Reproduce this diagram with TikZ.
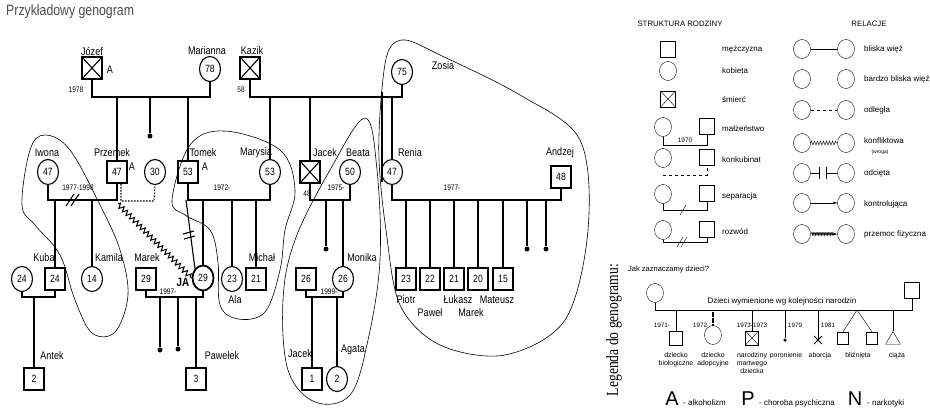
\documentclass[tikz,border=0pt]{standalone}
\usepackage{fontspec}
\setmainfont[FakeStretch=0.82]{Liberation Sans}
\newfontfamily\legf{Liberation Sans}
\newfontfamily\serifn[FakeStretch=0.8]{Liberation Serif}
\usetikzlibrary{shapes.geometric,decorations.pathmorphing,arrows.meta}
\begin{document}
\begin{tikzpicture}[x=1pt,y=-1pt,
  sq/.style={draw,line width=1.1pt,minimum width=20pt,minimum height=22pt,inner sep=0pt,font=\fontsize{10.5}{10}\selectfont},
  ci/.style={draw,ellipse,line width=1.1pt,minimum width=21pt,minimum height=25pt,inner sep=0pt,font=\fontsize{10.5}{10}\selectfont},
  xsq/.style={sq,path picture={\draw (path picture bounding box.north west)--(path picture bounding box.south east) (path picture bounding box.north east)--(path picture bounding box.south west);}},
  lb/.style={font=\fontsize{11}{11}\selectfont,inner sep=0pt},
  yr/.style={font=\fontsize{8}{8}\selectfont,inner sep=0pt},
  ln/.style={line width=1.1pt},
  dotc/.style={circle,fill,inner sep=0pt,minimum size=5pt},
  curve/.style={line width=0.6pt},
  lsq/.style={draw,minimum width=15pt,minimum height=16pt,inner sep=0pt},
  lci/.style={draw,ellipse,minimum width=17pt,minimum height=19pt,inner sep=0pt},
  lt/.style={font=\legf\fontsize{8}{9}\selectfont,inner sep=0pt,anchor=west},
  ct/.style={font=\legf\fontsize{6.9}{8.2}\selectfont,inner sep=0pt,align=center,anchor=north}]
\useasboundingbox (0,0) rectangle (930,416);
\fill[white] (0,0) rectangle (930,416);
\node[font=\fontsize{15}{15}\selectfont,text=black!70,anchor=west,inner sep=0pt] (title) at (6,12) {Przykładowy genogram};
% generation 1
\node[xsq] (jozef) at (92,68) {};
\node[lb] (lj) at (92,51) {Józef}; \node[lb] (aj) at (110,70) {A}; \node[yr] (yj) at (76,90) {1978};
\node[ci] (marianna) at (210,69) {78}; \node[lb] (lm) at (207,51) {Marianna};
\node[xsq] (kazik) at (250,68) {}; \node[lb] (lk) at (252,51) {Kazik}; \node[yr] (yk) at (241,90) {58};
\node[ci] (zosia) at (402,72) {75}; \node[lb] (lz) at (443,66) {Zosia};
\coordinate (m1) at (0,97);
\draw[ln] (jozef.south) -- (jozef.south|-m1) -- (marianna.south|-m1) -- (marianna.south);
\draw[ln] (kazik.south) -- (kazik.south|-m1) -- (zosia.south|-m1) -- (zosia.south);
\node[dotc] (d1) at (150,136) {}; \draw[ln] (d1) -- (d1|-m1);
% generation 2
\node[ci] (iwona) at (48,172) {47}; \node[lb] (li) at (47,153) {Iwona};
\node[sq] (przemek) at (117,172) {47}; \node[lb] (lp) at (112,153) {Przemek}; \node[lb] (ap) at (132,167) {A};
\node[ci] (c30) at (155,172) {30};
\node[sq] (tomek) at (188,172) {53}; \node[lb] (lt) at (203,153) {Tomek}; \node[lb] (at) at (205,167) {A};
\node[ci] (marysia) at (270,172) {53}; \node[lb] (lma) at (256,153) {Marysia};
\node[xsq] (jacek) at (310,172) {}; \node[lb] (ljk) at (325,153) {Jacek}; \node[yr] (yjk) at (307,194) {48};
\node[ci] (beata) at (350,172) {50}; \node[lb] (lb2) at (358,153) {Beata};
\node[ci] (renia) at (392,172) {47}; \node[lb] (lr) at (410,153) {Renia};
\node[sq] (andzej) at (561,177) {48}; \node[lb] (la) at (560,153) {Andzej};
\draw[ln] (przemek.north) -- (przemek.north|-m1);
\draw[ln] (tomek.north) -- (tomek.north|-m1);
\draw[ln] (marysia.north) -- (marysia.north|-m1);
\draw[ln] (jacek.north) -- (jacek.north|-m1);
\draw[ln] (renia.north) -- (renia.north|-m1);
\coordinate (m2) at (0,200);
\draw[ln] (iwona.south) -- (iwona.south|-m2) -- (przemek.south|-m2) -- (przemek.south);
\draw[ln] (66,206) -- (74,194) (71,206) -- (79,194);
\node[yr] (y1) at (78,188) {1977-1998};
\draw[ln,dash pattern=on 1.5pt off 1.5pt] (121,184) -- (121,201) -- (154,201) -- (c30.south);
\draw[ln] (tomek.south) -- (tomek.south|-m2) -- (marysia.south|-m2) -- (marysia.south);
\node[yr] (y2) at (222,188) {1972-};
\draw[ln] (jacek.south) -- (jacek.south|-m2) -- (beata.south|-m2) -- (beata.south);
\node[yr] (y3) at (336,188) {1975-};
\draw[ln] (renia.south) -- (renia.south|-m2) -- (andzej.south|-m2) -- (andzej.south);
\node[yr] (y4) at (452,188) {1977-};
% generation 3
\node[ci] (w24) at (22,279) {24};
\node[sq] (kuba) at (55,279) {24}; \node[lb] (lkb) at (44,258) {Kuba};
\node[ci] (kamila) at (92,279) {14}; \node[lb] (lka) at (109,258) {Kamila};
\node[sq] (marek) at (146,279) {29}; \node[lb] (lmk) at (147,258) {Marek};
\node[ci,line width=1.8pt] (ja) at (203,278) {29}; \node[font=\bfseries\fontsize{12}{12}\selectfont,inner sep=0pt] (lja) at (183,282) {JA};
\node[ci] (ala) at (232,279) {23}; \node[lb] (lal) at (235,300) {Ala};
\node[sq] (michal) at (256,279) {21}; \node[lb] (lmi) at (262,258) {Michał};
\node[sq] (s26) at (306,279) {26};
\node[ci] (monika) at (343,279) {26}; \node[lb] (lmo) at (362,258) {Monika};
\node[dotc] (d2) at (326,249) {};
\draw[ln] (kuba.north) -- (55,200);
\draw[ln] (kamila.north) -- (92,200);
\draw[ln] (ja.north) -- (ja.north|-m2);
\draw[ln] (ala.north) -- (ala.north|-m2);
\draw[ln] (michal.north) -- (michal.north|-m2);
\draw[ln] (d2) -- (d2|-m2);
\draw[ln] (monika.north) -- (monika.north|-m2);
\foreach \x/\n/\a in {406/23/k1,430/22/k2,454/21/k3,478/20/k4,503/15/k5}{
  \node[sq] (\a) at (\x,279) {\n}; \draw[ln] (\a.north) -- (\a.north|-m2);}
\node[dotc] (d3) at (527,249) {}; \draw[ln] (d3) -- (d3|-m2);
\node[dotc] (d4) at (546,249) {}; \draw[ln] (d4) -- (d4|-m2);
\node[lb] at (406,300) {Piotr}; \node[lb] at (430,313) {Paweł}; \node[lb] at (458,300) {Łukasz};
\node[lb] at (471,313) {Marek}; \node[lb] at (497,300) {Mateusz};
% relations
\draw[line width=1pt,decorate,decoration={zigzag,segment length=5pt,amplitude=2.5pt}] (118,204) -- (ja.west);
\draw[ln] (186,200) -- (ja.north west);
\draw[ln] (183,234) -- (194,231) (184,239) -- (195,236);
% gen 3 marriages
\coordinate (m3) at (0,297);
\draw[ln] (w24.south) -- (w24.south|-m3) -- (kuba.south|-m3) -- (kuba.south);
\node[sq] (antek) at (34,379) {2}; \node[lb] (lan) at (52,356) {Antek};
\draw[ln] (antek.north) -- (antek.north|-m3);
\draw[ln] (marek.south) -- (marek.south|-m3) -- (ja.south|-m3) -- (ja.south);
\node[yr] (y5) at (168,292) {1997-};
\node[dotc] (d5) at (160,350) {}; \draw[ln] (d5) -- (d5|-m3);
\node[dotc] (d6) at (178,349) {}; \draw[ln] (d6) -- (d6|-m3);
\node[sq] (pawelek) at (196,379) {3}; \node[lb] (lpw) at (222,356) {Pawełek};
\draw[ln] (pawelek.north) -- (pawelek.north|-m3);
\draw[ln] (s26.south) -- (s26.south|-m3) -- (monika.south|-m3) -- (monika.south);
\node[yr] (y6) at (329,292) {1999-};
\node[sq] (jacek2) at (312,379) {1}; \node[lb] (lj2) at (300,354) {Jacek};
\node[ci] (agata) at (337,379) {2}; \node[lb] (lag) at (353,350) {Agata};
\draw[ln] (jacek2.north) -- (jacek2.north|-m3);
\draw[ln] (agata.north) -- (agata.north|-m3);
% enclosing curves
\draw[curve] plot[smooth cycle,tension=0.6] coordinates {(22,205) (30,150) (45,135) (70,150) (100,205) (120,250) (128,295) (115,332) (92,333) (75,300) (60,255) (35,225)};
\draw[curve] plot[smooth cycle,tension=0.6] coordinates {(172,200) (190,145) (225,131) (280,150) (295,190) (285,230) (280,270) (265,312) (238,319) (220,305) (218,262) (210,230) (185,215)};
\draw[curve] plot[smooth cycle,tension=0.6] coordinates {(365,118) (377,170) (380,260) (368,340) (350,395) (315,402) (288,370) (283,300) (295,240) (330,170)};
\draw[curve] plot[smooth cycle,tension=0.55] coordinates {(381,100) (388,52) (405,40) (440,55) (520,95) (580,140) (588,230) (565,320) (505,355) (440,345) (400,305) (386,230) (379,160)};
\draw[line width=1.8pt] (382,92) -- (382,182);
% ===== legend =====
\node[font=\serifn\fontsize{17}{17}\selectfont,rotate=90,inner sep=0pt] (leg) at (614,330) {Legenda do genogramu:};
\node[font=\legf\fontsize{7.8}{8}\selectfont] (hs) at (680,24) {STRUKTURA RODZINY};
\node[font=\legf\fontsize{7.8}{8}\selectfont] (hr) at (869,24) {RELACJE};
\node[lsq] (lg1) at (668,49) {}; \node[lt] at (722,49) {mężczyzna};
\node[lci] (lg2) at (668,71) {}; \node[lt] at (722,71) {kobieta};
\node[lsq,path picture={\draw (path picture bounding box.north west)--(path picture bounding box.south east) (path picture bounding box.north east)--(path picture bounding box.south west);}] (lg3) at (668,99) {}; \node[lt] at (722,100) {śmierć};
\foreach \y/\t/\k in {129/małżeństwo/a,160/konkubinat/b,196/separacja/c,232/rozwód/d}{
  \node[lci] (lc\k) at (663,\y-2) {}; \node[lsq] (ls\k) at (707,\y-3) {}; \node[lt] at (722,\y) {\t};}
\draw (lca.south) -- (lca.south|-0,145) -- (lsa.south|-0,145) -- (lsa.south);
\node[font=\legf\fontsize{6.5}{6}\selectfont] at (685,140) {1970};
\draw[dashed] (lcb.south|-0,175) -- (lsb.south|-0,175) -- (lsb.south);
\draw (lcc.south) -- (lcc.south|-0,210) -- (lsc.south|-0,210) -- (lsc.south);
\draw (680,215) -- (686,205);
\draw[line width=0.9pt] (lcd.south) -- (lcd.south|-0,242) -- (lsd.south|-0,242) -- (lsd.south);
\draw (677,247) -- (683,237) (681,247) -- (687,237);
\foreach \y/\k in {49/a,79/b,110/c,143/d,173/e,203/f,234/g}{
  \node[lci] (ra\k) at (802,\y) {}; \node[lci] (rb\k) at (846,\y) {};}
\node[lt] at (864,49) {bliska więź};
\node[lt] at (864,79) {bardzo bliska więź};
\node[lt] at (864,110) {odległa};
\node[lt] at (864,141) {konfliktowa}; \node[font=\legf\fontsize{5}{5}\selectfont] at (880,152) {(wroga)};
\node[lt] at (864,173) {odcięta};
\node[lt] at (864,204) {kontrolująca};
\node[lt] at (864,234) {przemoc fizyczna};
\draw (raa) -- (rba);
\draw[double,double distance=2pt] (rab) -- (rbb);
\draw[dashed] (rac) -- (rbc);
\draw[decorate,decoration={zigzag,segment length=3pt,amplitude=2pt}] (rad) -- (rbd);
\draw (rae) -- (rbe); \draw[fill=white,draw=white] (819,166) rectangle (826,180);
\draw (819,167) -- (819,179) (826,167) -- (826,179);
\draw[-{Latex[length=4pt]}] (raf) -- (rbf);
\draw[decorate,decoration={coil,segment length=1.5pt,amplitude=1.5pt,aspect=0.5}] (rag.east) -- ++(24,0);
\draw[-{Latex[length=4pt]}] (832,234) -- (rbg);
% children legend
\node[font=\legf\fontsize{7.5}{8}\selectfont,anchor=west,inner sep=0pt] at (628,270) {Jak zaznaczamy dzieci?};
\node[lci] (pm) at (655,293) {}; \node[lsq] (pf) at (912,290) {};
\coordinate (m4) at (0,310);
\draw (pm.south) -- (pm.south|-m4) -- (pf.south|-m4) -- (pf.south);
\node[font=\legf\fontsize{8}{8}\selectfont] at (782,301) {Dzieci wymienione wg kolejności narodzin};
\node[lsq,minimum width=13pt,minimum height=14pt] (ch1) at (676,338) {}; \draw (ch1.north) -- (ch1.north|-m4);
\node[lci] (ch2) at (713,335) {}; \draw[dash pattern=on 0.6pt off 0.6pt,line width=1.5pt] (ch2.north) -- (ch2.north|-m4);
\node[lsq,minimum width=13pt,minimum height=14pt,path picture={\draw (path picture bounding box.north west)--(path picture bounding box.south east) (path picture bounding box.north east)--(path picture bounding box.south west);}] (ch3) at (752,338) {}; \draw (ch3.north) -- (ch3.north|-m4);
\node[circle,fill,inner sep=0pt,minimum size=3.5pt] (ch4) at (785,340) {}; \draw (ch4) -- (ch4|-m4);
\coordinate (ch5) at (818,340); \draw (ch5) -- (ch5|-m4); \draw[line width=0.9pt] (814,336) -- (822,344) (822,336) -- (814,344);
\node[lsq,minimum width=11pt,minimum height=12pt] (tw1) at (843,338) {};
\node[lsq,minimum width=11pt,minimum height=12pt] (tw2) at (872,338) {};
\coordinate (tw) at (857,310); \draw (tw1.north) -- (tw) -- (tw2.north);
\node[draw,regular polygon,regular polygon sides=3,inner sep=0pt,minimum size=17pt] (ch7) at (893,340) {}; \draw (ch7.north) -- (ch7.north|-m4);
\foreach \x/\t in {662/1971-,700/1972,752/1973-1973,795/1979,828/1981}{\node[font=\legf\fontsize{6.3}{6}\selectfont] at (\x,325) {\t};}
\node[ct] at (676,352) {dziecko\\biologiczne};
\node[ct] at (713,352) {dziecko\\adopcyjne};
\node[ct] at (752,352) {narodziny\\martwego\\dziecka};
\node[ct] at (786,352) {poronienie};
\node[ct] at (820,352) {aborcja};
\node[ct] at (858,352) {bliźnięta};
\node[ct] at (897,352) {ciąża};
\node[font=\legf\fontsize{20}{20}\selectfont,inner sep=0pt] (bA) at (672,399) {A};
\node[lt] at (683,403) {- alkoholizm};
\node[font=\legf\fontsize{20}{20}\selectfont,inner sep=0pt] (bP) at (748,399) {P};
\node[lt] at (759,403) {- choroba psychiczna};
\node[font=\legf\fontsize{20}{20}\selectfont,inner sep=0pt] (bN) at (855,399) {N};
\node[lt] at (867,403) {- narkotyki};
\end{tikzpicture}
\end{document}
